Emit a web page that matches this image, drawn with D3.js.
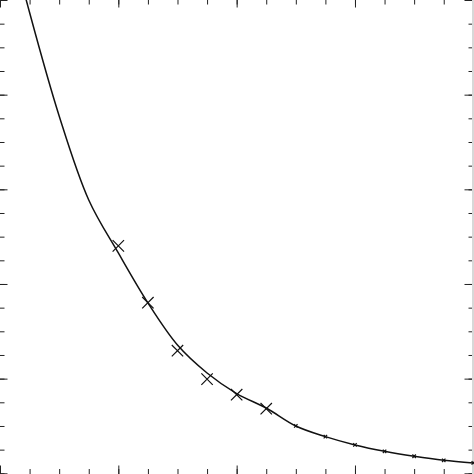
<!DOCTYPE html>
<html>
<head>
<meta charset="utf-8">
<script src="https://cdn.jsdelivr.net/npm/d3@7"></script>
<style>
  html, body { margin: 0; padding: 0; background: #fff; overflow: hidden; }
  .tick text { display: none; }
</style>
</head>
<body>
<div id="chart"></div>
<script>
// Plot size (whole window)
const width = 474;
const height = 474;

// Model curve, one vertex per x unit
const curveX = [0, 1, 2, 3, 4, 5, 6, 7, 8, 9, 10, 11, 12, 13, 14, 15, 16];
const curveY = [24.33, 19.47, 15.10, 11.55, 9.31, 7.20, 5.42, 4.24, 3.37, 2.76,
                2.00, 1.55, 1.20, 0.93, 0.72, 0.55, 0.44];

// Measured points (big crosses)
const bigX = [4, 5, 6, 7, 8, 9];
const bigY = [9.61, 7.21, 5.18, 3.98, 3.32, 2.73];

// Points drawn with the small marker
const smallX = [10, 11, 12, 13, 14, 15, 16];
const smallY = [2.00, 1.55, 1.20, 0.93, 0.72, 0.55, 0.44];

// Tick positions
const xMinor = d3.range(0, 17, 1);
const xMajor = d3.range(0, 17, 4);
const yMinor = d3.range(0, 21, 1);
const yMajor = d3.range(0, 21, 4);

const x = d3.scaleLinear().domain([0, 16]).range([0, 473.3]);
const y = d3.scaleLinear().domain([0, 20]).range([473.3, 0]);

const svg = d3.select("#chart")
    .append("svg")
    .attr("width", width)
    .attr("height", height);

// Clip so the curve stops at the frame
svg.append("clipPath").attr("id", "clip")
    .append("rect").attr("width", width).attr("height", height);

// Inward ticks on all four sides
function ticks(axis, values, size, transform) {
    const g = svg.append("g")
        .attr("transform", transform)
        .call(axis.tickValues(values).tickSize(-size).tickFormat(""));
    g.select(".domain").remove();
    g.selectAll("line").attr("stroke", "#222").attr("stroke-width", 1);
}
ticks(d3.axisBottom(x), xMinor, 5, `translate(0,${height})`);
ticks(d3.axisBottom(x), xMajor, 8.5, `translate(0,${height})`);
ticks(d3.axisTop(x), xMinor, 4.5, "translate(0,0)");
ticks(d3.axisTop(x), xMajor, 7.5, "translate(0,0)");
ticks(d3.axisLeft(y), yMinor, 4.5, "translate(0,0)");
ticks(d3.axisLeft(y), yMajor, 7.5, "translate(0,0)");
ticks(d3.axisRight(y), yMinor, 3.5, "translate(472,0)");
ticks(d3.axisRight(y), yMajor, 7.5, "translate(472,0)");

// Right frame edge shows as a light grey strip
svg.append("line")
    .attr("x1", 473).attr("x2", 473)
    .attr("y1", 0).attr("y2", height)
    .attr("stroke", "#d8d8d8")
    .attr("stroke-width", 2);

// Model line, lightly smoothed between vertices
const line = d3.line()
    .curve(d3.curveCatmullRom.alpha(0.5))
    .x(i => x(curveX[i]))
    .y(i => y(curveY[i]));

svg.append("path")
    .attr("clip-path", "url(#clip)")
    .attr("fill", "none")
    .attr("stroke", "#111")
    .attr("stroke-width", 1.5)
    .attr("stroke-linejoin", "round")
    .attr("d", line(d3.range(curveX.length)));

// Cross markers
function crosses(xs, ys, r, sw) {
    const cross = d3.symbol().type(d3.symbolTimes).size((r * 2) * (r * 2) / 1.4);
    svg.append("g")
        .selectAll("path")
        .data(d3.range(xs.length))
        .join("path")
        .attr("transform", i => `translate(${x(xs[i])},${y(ys[i])})`)
        .attr("d", cross)
        .attr("fill", "none")
        .attr("stroke", "#111")
        .attr("stroke-width", sw);
}
crosses(bigX, bigY, 5.5, 1.2);
crosses(smallX, smallY, 1.8, 1.2);
</script>
</body>
</html>
